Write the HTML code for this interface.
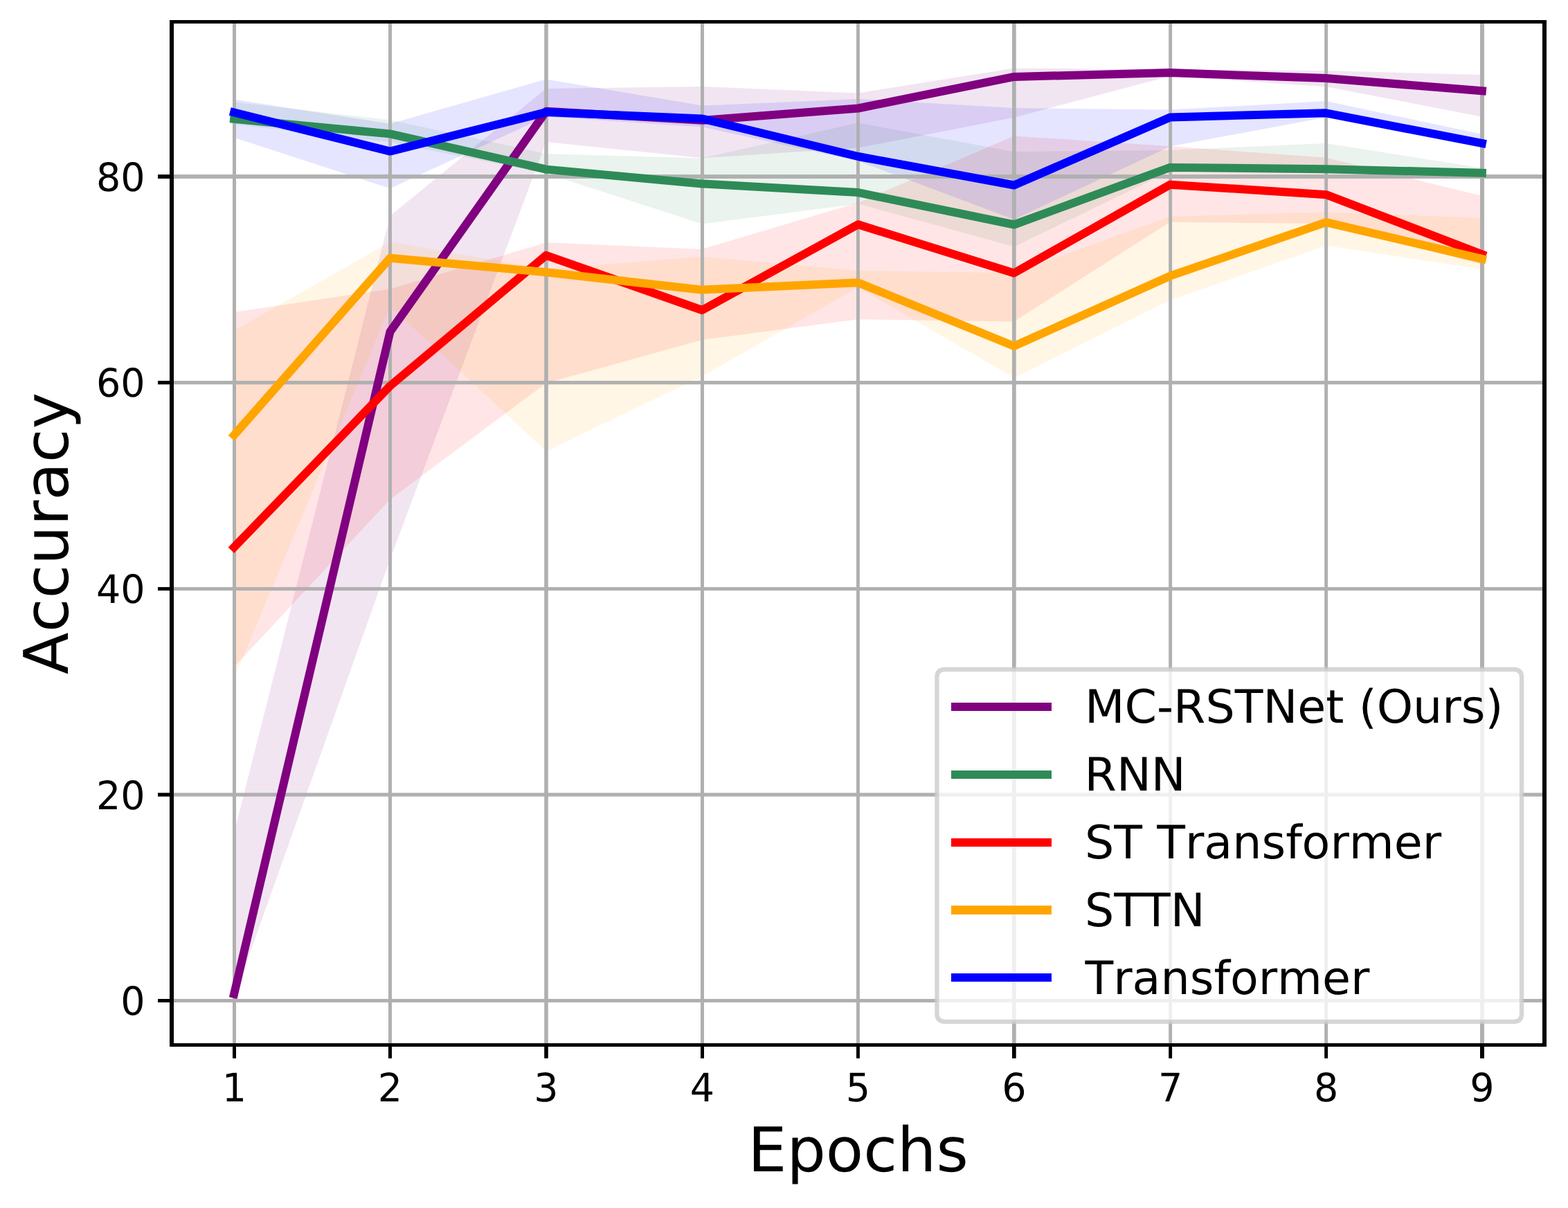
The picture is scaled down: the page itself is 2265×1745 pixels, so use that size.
<!DOCTYPE html>
<html lang="en"><head><meta charset="utf-8"><title>Accuracy vs Epochs</title>
<style>html,body{margin:0;padding:0;background:#fff}body{width:2265px;height:1745px;overflow:hidden}svg{display:block}text{font-family:"DejaVu Sans", "Liberation Sans", sans-serif;fill:#000;font-kerning:none;font-variant-ligatures:none;text-rendering:geometricPrecision}.tk{font-size:55.56px}.lb{font-size:88.89px}.lg{font-size:66.67px}</style></head><body>
<svg width="2265" height="1745" viewBox="0 0 2265 1745">
<rect width="2265" height="1745" fill="#fff"/>
<defs><clipPath id="ax"><rect x="248" y="31.5" width="1983" height="1478"/></clipPath></defs>
<g clip-path="url(#ax)">
<g fill-opacity="0.1" stroke="none">
<polygon fill="#800080" points="338.14,1203 563.48,311.7 788.82,128 1014.16,125 1239.5,134.4 1464.84,98.5 1690.18,100.5 1915.52,102.1 2140.86,108.1 2140.86,168.8 1915.52,125.2 1690.18,110 1464.84,169.8 1239.5,213.6 1014.16,228.3 788.82,205 563.48,808 338.14,1441"/>
<polygon fill="#2e8b57" points="338.14,147.5 563.48,173.3 788.82,222.2 1014.16,228.5 1239.5,177.6 1464.84,219.2 1690.18,216.9 1915.52,207 2140.86,242.7 2140.86,255 1915.52,250 1690.18,247.5 1464.84,356.2 1239.5,294.4 1014.16,323.5 788.82,250.4 563.48,205.4 338.14,179.5"/>
<polygon fill="#ff0000" points="338.14,451 563.48,417.4 788.82,350.3 1014.16,359.9 1239.5,292.8 1464.84,196.4 1690.18,211.2 1915.52,227.8 2140.86,283 2140.86,382.1 1915.52,323 1690.18,320.8 1464.84,464.5 1239.5,461.3 1014.16,491 788.82,553.5 563.48,721.5 338.14,963.5"/>
<polygon fill="#ffa500" points="338.14,477.5 563.48,349.5 788.82,388.5 1014.16,370.8 1239.5,391 1464.84,394.2 1690.18,312.8 1915.52,306.4 2140.86,315 2140.86,389.1 1915.52,354.7 1690.18,433.8 1464.84,545.6 1239.5,415.1 1014.16,543.5 788.82,651.7 563.48,442.2 338.14,980"/>
<polygon fill="#0000ff" points="338.14,143.5 563.48,178.8 788.82,114.4 1014.16,152.6 1239.5,143 1464.84,156 1690.18,158.5 1915.52,146 2140.86,193.8 2140.86,212 1915.52,169.5 1690.18,211.5 1464.84,317 1239.5,232.5 1014.16,183.4 788.82,168.5 563.48,272.2 338.14,198.8"/>
</g>
<g fill="#b0b0b0">
<rect x="336" y="31.5" width="5" height="1478"/>
<rect x="561" y="31.5" width="5" height="1478"/>
<rect x="786.2" y="31.5" width="5.6" height="1478"/>
<rect x="1012" y="31.5" width="5" height="1478"/>
<rect x="1237" y="31.5" width="4.9" height="1478"/>
<rect x="1462" y="31.5" width="5.7" height="1478"/>
<rect x="1688.2" y="31.5" width="4.9" height="1478"/>
<rect x="1913.2" y="31.5" width="4.9" height="1478"/>
<rect x="2138" y="31.5" width="6" height="1478"/>
<rect x="248" y="252.1" width="1983" height="5.9"/>
<rect x="248" y="550.1" width="1983" height="5.2"/>
<rect x="248" y="848.1" width="1983" height="5"/>
<rect x="248" y="1145.3" width="1983" height="5.3"/>
<rect x="248" y="1443" width="1983" height="5"/>
</g>
<g fill="none" stroke-width="12" stroke-linejoin="round" stroke-linecap="square">
<polyline stroke="#800080" points="338.14,1435.8 563.48,479.3 788.82,160.8 1014.16,173.8 1239.5,156.5 1464.84,110.9 1690.18,105.1 1915.52,113 2140.86,131.3"/>
<polyline stroke="#2e8b57" points="338.14,171.9 563.48,193.4 788.82,244.6 1014.16,265.5 1239.5,278.1 1464.84,324.5 1690.18,241.9 1915.52,244.2 2140.86,249.8"/>
<polyline stroke="#ff0000" points="338.14,790.5 563.48,557.5 788.82,368.8 1014.16,448 1239.5,324.3 1464.84,394.4 1690.18,266.7 1915.52,281.2 2140.86,367.4"/>
<polyline stroke="#ffa500" points="338.14,628.5 563.48,372.7 788.82,393.3 1014.16,418.7 1239.5,408.2 1464.84,500 1690.18,398.7 1915.52,321.1 2140.86,374"/>
<polyline stroke="#0000ff" points="338.14,162.5 563.48,218.6 788.82,162.1 1014.16,171.5 1239.5,226 1464.84,267.5 1690.18,169.4 1915.52,163.3 2140.86,207"/>
</g>
</g>
<g fill="#000">
<rect x="336" y="1511" width="5" height="17.8"/>
<rect x="561" y="1511" width="5" height="17.8"/>
<rect x="786.2" y="1511" width="5.6" height="17.8"/>
<rect x="1012" y="1511" width="5" height="17.8"/>
<rect x="1237" y="1511" width="4.9" height="17.8"/>
<rect x="1462" y="1511" width="5.7" height="17.8"/>
<rect x="1688.2" y="1511" width="4.9" height="17.8"/>
<rect x="1913.2" y="1511" width="4.9" height="17.8"/>
<rect x="2138" y="1511" width="6" height="17.8"/>
<rect x="228" y="252.1" width="18" height="5.9"/>
<rect x="228" y="550.1" width="18" height="5.2"/>
<rect x="228" y="848.1" width="18" height="5"/>
<rect x="228" y="1145.3" width="18" height="5.3"/>
<rect x="228" y="1443" width="18" height="5"/>
<rect x="245" y="29" width="6" height="1483"/>
<rect x="2228" y="29" width="6" height="1483"/>
<rect x="245" y="29" width="1989" height="5"/>
<rect x="245" y="1507" width="1989" height="5"/>
</g>
<text class="tk" transform="translate(338.5 1590.5) scale(1 1.02)" text-anchor="middle">1</text>
<text class="tk" transform="translate(563.5 1590.5) scale(1 1.02)" text-anchor="middle">2</text>
<text class="tk" transform="translate(789 1590.5) scale(1 1.02)" text-anchor="middle">3</text>
<text class="tk" transform="translate(1014.5 1590.5) scale(1 1.02)" text-anchor="middle">4</text>
<text class="tk" transform="translate(1239.45 1590.5) scale(1 1.02)" text-anchor="middle">5</text>
<text class="tk" transform="translate(1464.85 1590.5) scale(1 1.02)" text-anchor="middle">6</text>
<text class="tk" transform="translate(1690.65 1590.5) scale(1 1.02)" text-anchor="middle">7</text>
<text class="tk" transform="translate(1915.65 1590.5) scale(1 1.02)" text-anchor="middle">8</text>
<text class="tk" transform="translate(2141 1590.5) scale(1 1.02)" text-anchor="middle">9</text>
<text class="tk" transform="translate(209.6 275.75) scale(1 1.02)" text-anchor="end">80</text>
<text class="tk" transform="translate(209.6 573.4) scale(1 1.02)" text-anchor="end">60</text>
<text class="tk" transform="translate(209.6 871.3) scale(1 1.02)" text-anchor="end">40</text>
<text class="tk" transform="translate(209.6 1168.65) scale(1 1.02)" text-anchor="end">20</text>
<text class="tk" transform="translate(209.6 1466.2) scale(1 1.02)" text-anchor="end">0</text>
<text class="lb" x="1239.5" y="1692" text-anchor="middle">Epochs</text>
<text class="lb" transform="translate(97.8 770.5) rotate(-90)" text-anchor="middle">Accuracy</text>
<path d="M1364.9,967 L2186.6,967 Q2198.1,967 2198.1,978.5 L2198.1,1464.3 Q2198.1,1475.8 2186.6,1475.8 L1364.9,1475.8 Q1353.4,1475.8 1353.4,1464.3 L1353.4,978.5 Q1353.4,967 1364.9,967 Z" fill="#fff" fill-opacity="0.8" stroke="#ccc" stroke-opacity="0.8" stroke-width="6.3" stroke-linejoin="miter"/>
<rect x="1374" y="1015" width="145" height="12" fill="#800080"/>
<text class="lg" x="1567" y="1044.2">MC-RSTNet (Ours)</text>
<rect x="1374" y="1113" width="145" height="12" fill="#2e8b57"/>
<text class="lg" x="1566.6" y="1142.2">RNN</text>
<rect x="1374" y="1211" width="145" height="12" fill="#ff0000"/>
<text class="lg" x="1567" y="1240">ST Transformer</text>
<rect x="1374" y="1308.2" width="145" height="12.8" fill="#ffa500"/>
<text class="lg" x="1567" y="1338.1">STTN</text>
<rect x="1374" y="1406.1" width="145" height="12" fill="#0000ff"/>
<text class="lg" x="1567.5" y="1436.1">Transformer</text>
</svg></body></html>
